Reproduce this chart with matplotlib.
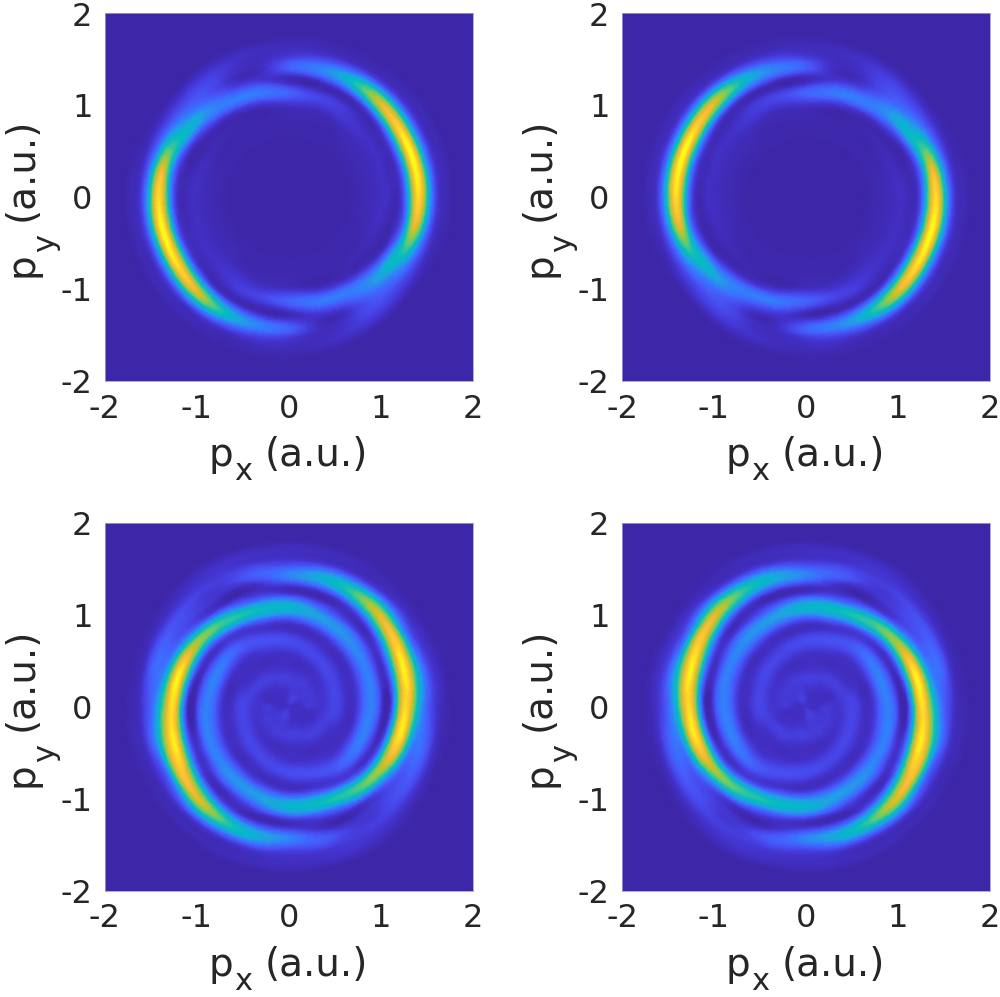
import numpy as np
import matplotlib
matplotlib.use('Agg')
import matplotlib.pyplot as plt
import matplotlib.tri as mtri
from matplotlib.colors import LinearSegmentedColormap

# intensity, rows = angle (deg), columns = radius (a.u.)
# the maps are point symmetric so only the upper half plane is listed
radius = [0.0, 0.1, 0.2, 0.3, 0.4, 0.5, 0.6, 0.7, 0.8, 0.9, 1.0, 1.1, 1.2, 1.3, 1.4, 1.5, 1.6, 1.7, 1.8, 2.0]
angle = [0, 15, 30, 45, 60, 75, 90, 105, 120, 135, 150, 165]

top_map = [
    [0, 0, 0, 0, 0, 0, 0, .01, .02, .03, .05, .04, .04, .42, .95, .62, .13, .03, 0, 0],
    [0, 0, 0, 0, 0, 0, 0, .01, .02, .03, .05, .04, .05, .44, 1.0, .65, .14, .03, 0, 0],
    [0, 0, 0, 0, 0, 0, 0, .01, .02, .03, .05, .05, .05, .43, .96, .62, .13, .03, 0, 0],
    [0, 0, 0, 0, 0, 0, 0, .01, .02, .03, .06, .06, .02, .27, .80, .62, .14, .03, 0, 0],
    [0, 0, 0, 0, 0, 0, 0, .01, .01, .02, .06, .10, .05, .11, .50, .42, .10, .02, 0, 0],
    [0, 0, 0, 0, 0, 0, 0, .01, .01, .02, .05, .13, .07, .05, .30, .24, .07, .02, 0, 0],
    [0, 0, 0, 0, 0, 0, 0, .01, .01, .02, .06, .20, .14, .03, .20, .14, .05, .02, 0, 0],
    [0, 0, 0, 0, 0, 0, 0, .01, .01, .01, .02, .18, .27, .10, .03, .04, .05, .02, 0, 0],
    [0, 0, 0, 0, 0, 0, 0, .01, .01, .01, .01, .10, .29, .20, .10, .11, .09, .02, 0, 0],
    [0, 0, 0, 0, 0, 0, 0, .01, .01, .01, .02, .04, .24, .37, .25, .17, .09, .01, 0, 0],
    [0, 0, 0, 0, 0, 0, 0, .01, .01, .02, .03, .01, .13, .47, .46, .24, .08, .01, 0, 0],
    [0, 0, 0, 0, 0, 0, 0, .01, .02, .03, .05, .02, .05, .36, .80, .46, .10, .02, 0, 0],
]

bottom_map = [
    [.07, .05, .09, .08, .09, .13, .08, .05, .20, .30, .12, .05, .72, .92, .52, .22, .08, .02, 0, 0],
    [.07, .06, .09, .08, .08, .13, .09, .05, .16, .30, .18, .05, .55, .99, .72, .32, .10, .03, 0, 0],
    [.07, .08, .09, .09, .07, .12, .11, .05, .11, .28, .24, .06, .32, .84, .84, .30, .08, .02, 0, 0],
    [.07, .10, .09, .09, .06, .10, .13, .06, .07, .26, .32, .12, .07, .50, .84, .50, .12, .03, 0, 0],
    [.07, .12, .09, .10, .06, .07, .13, .09, .05, .20, .37, .20, .05, .20, .60, .46, .10, .03, .01, 0],
    [.07, .11, .09, .10, .06, .05, .11, .13, .05, .12, .36, .34, .08, .08, .40, .38, .10, .04, .01, 0],
    [.07, .09, .08, .11, .07, .05, .08, .15, .09, .06, .32, .47, .18, .05, .29, .24, .08, .05, .01, 0],
    [.07, .06, .07, .11, .08, .05, .06, .14, .14, .06, .29, .52, .26, .05, .10, .20, .10, .06, .01, 0],
    [.07, .05, .06, .09, .10, .05, .05, .10, .17, .10, .17, .55, .42, .08, .04, .09, .10, .07, .02, 0],
    [.07, .05, .05, .08, .11, .06, .05, .07, .19, .20, .08, .42, .67, .25, .10, .13, .12, .05, .01, 0],
    [.07, .05, .05, .06, .11, .07, .05, .07, .23, .26, .06, .30, .80, .58, .20, .20, .13, .03, 0, 0],
    [.07, .05, .05, .06, .10, .11, .06, .05, .23, .29, .07, .20, .87, .85, .35, .25, .12, .02, 0, 0],
]

tick_values = [-2, -1, 0, 1, 2]
tick_labels = ['-2', '-1', '0', '1', '2']

parula = LinearSegmentedColormap.from_list('parula', [
    (.2422, .1504, .6603), (.2647, .1978, .7952), (.2803, .2782, .9221), (.2760, .3667, .9829),
    (.2206, .4603, .9973), (.1764, .5499, .9520), (.1248, .6459, .8883), (.0297, .7082, .8163),
    (.0433, .7411, .7394), (.1938, .7758, .6251), (.3909, .8029, .4354), (.6174, .7876, .2612),
    (.8203, .7498, .1535), (.9728, .7298, .2394), (.9892, .8086, .1706), (.9769, .9839, .0805)])

W, H = 1000.0, 997.0
INK = '#262626'


def full_turn(table):
    # second half plane repeats the first, extra rows on both sides keep the seam smooth
    half = np.array(table, dtype=float)
    vals = np.vstack([half[-2:], half, half, half[:2]])
    th = np.deg2rad(np.arange(-30, 390, 15))
    return th, vals


def px_text(fig, x, y, s, size, rot=0):
    # x, y in image pixels, y from the top
    fig.text(x / W, 1 - y / H, s, fontsize=size, color=INK, ha='left', va='baseline',
             rotation=rot, rotation_mode='anchor')


def axis_labels(fig, left, top, side):
    # the subscript sits lower than mathtext would put it, so the pieces are placed one by one
    cx = left + side / 2
    cy = top + side / 2
    base = top + side + 85
    px_text(fig, cx - 80, base, 'p', 28)
    px_text(fig, cx - 55, base + 14, 'x', 22)
    px_text(fig, cx - 24, base, '(a.u.)', 28)
    base_x = left - 72
    px_text(fig, base_x, cy + 80, 'p', 28, rot=90)
    px_text(fig, base_x + 21, cy + 55, 'y', 22, rot=90)
    px_text(fig, base_x, cy + 24, '(a.u.)', 28, rot=90)


def draw_map(ax, table, mirror=False):
    th, vals = full_turn(table)
    tt, rr = np.meshgrid(th, radius)
    tri_polar = mtri.Triangulation(tt.ravel(), rr.ravel())
    refiner = mtri.UniformTriRefiner(tri_polar)
    fine, z = refiner.refine_field(vals.T.ravel(), subdiv=3)
    x = fine.y * np.cos(fine.x)
    y = fine.y * np.sin(fine.x)
    if mirror:
        x = -x
    ax.set_facecolor(parula(0))
    ax.tripcolor(x, y, fine.triangles, np.clip(z, 0, 1), shading='gouraud',
                 cmap=parula, vmin=0, vmax=1, rasterized=True)
    ax.set_xlim(-2, 2)
    ax.set_ylim(-2, 2)
    ax.set_xticks(tick_values, tick_labels)
    ax.set_yticks(tick_values, tick_labels)
    ax.tick_params(length=0, labelsize=23, labelcolor=INK, pad=9)
    for s in ax.spines.values():
        s.set_linewidth(0.6)
        s.set_color('#9c9cd8')


fig = plt.figure(figsize=(10, 9.97), dpi=100)
lefts = [105, 622]
tops = [13.5, 523]
size = 367.5
for row, table in enumerate([top_map, bottom_map]):
    for col, left in enumerate(lefts):
        ax = fig.add_axes([left / W, 1 - (tops[row] + size) / H, size / W, size / H])
        draw_map(ax, table, mirror=col == 1)
        axis_labels(fig, left, tops[row], size)

fig.savefig('out.png', dpi=100)
